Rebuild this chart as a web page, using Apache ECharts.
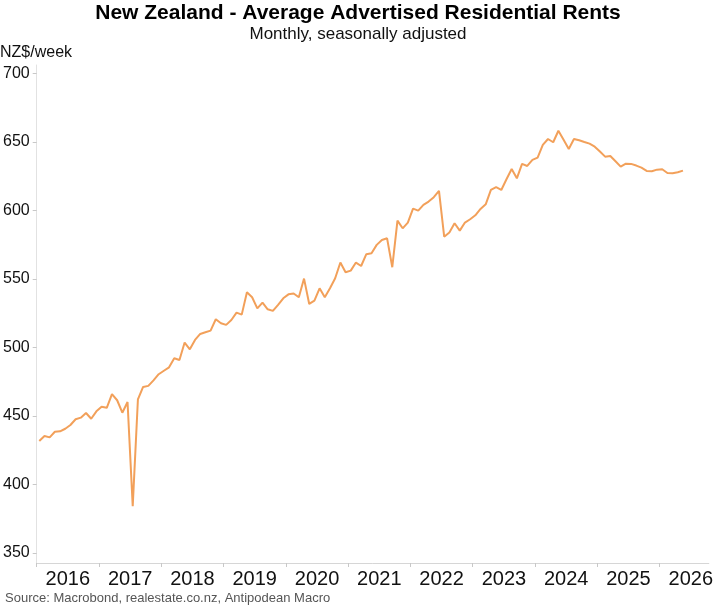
<!DOCTYPE html>
<html>
<head>
<meta charset="utf-8">
<script src="https://cdn.jsdelivr.net/npm/echarts@6/dist/echarts.min.js"></script>
<style>
  html, body { margin: 0; padding: 0; background: #fff; }
  #chart { width: 716px; height: 606px; }
</style>
</head>
<body>
<div id="chart"></div>
<script>
// monthly rents, Jan 2016 .. May 2026 (NZ$/week, s.a.)
const startYear = 2016;
const rents = [
  431.7, 435.4, 434.4, 438.5, 438.8, 440.7, 443.4, 447.6, 448.8, 452.2, 448.0, 453.4,
  456.8, 456.0, 465.9, 461.5, 452.4, 460.2, 384.1, 462.2, 471.2, 472.0, 476.0, 480.5,
  483.0, 485.5, 492.1, 490.9, 503.6, 498.7, 505.5, 509.9, 511.1, 512.3, 520.6, 517.7,
  516.5, 520.1, 525.5, 524.0, 540.3, 536.7, 528.6, 532.8, 527.9, 526.7, 531.1, 535.9,
  538.8, 539.4, 536.7, 550.3, 531.8, 534.2, 543.2, 536.7, 543.2, 550.5, 562.0, 554.9,
  556.1, 562.0, 559.5, 568.1, 568.8, 574.9, 578.5, 579.7, 558.6, 592.6, 587.0, 591.2,
  601.4, 599.9, 604.1, 606.5, 609.7, 614.3, 580.9, 583.9, 590.7, 585.3, 591.2, 593.6,
  596.5, 601.1, 604.5, 615.0, 617.0, 615.0, 622.8, 630.3, 623.5, 634.0, 632.5, 636.9,
  638.6, 647.9, 652.2, 649.8, 658.2, 651.6, 644.9, 652.2, 651.3, 650.0, 648.8, 646.6,
  643.0, 639.3, 639.8, 635.9, 632.0, 634.2, 634.0, 632.8, 631.3, 628.9, 628.6, 629.8,
  630.1, 627.4, 627.2, 627.9, 629.1
];
const yearTicks = [2016, 2017, 2018, 2019, 2020, 2021, 2022, 2023, 2024, 2025, 2026];
const yTicks = [350, 400, 450, 500, 550, 600, 650, 700];

// plot each month at its mid point
const data = rents.map((v, i) => [startYear + (i + 0.5) / 12, v]);

const font = "Liberation Sans, Arial, sans-serif";
const chart = echarts.init(document.getElementById("chart"), null, { renderer: "canvas" });

chart.setOption({
  animation: false,
  textStyle: { fontFamily: font },
  title: [
    {
      text: "New Zealand - Average Advertised Residential Rents",
      left: "center",
      top: 3,
      padding: 0,
      textStyle: { fontSize: 21, fontWeight: "bold", color: "#000", fontFamily: font }
    },
    {
      text: "Monthly, seasonally adjusted",
      left: "center",
      top: 26,
      padding: 0,
      textStyle: { fontSize: 17, fontWeight: "normal", color: "#111", fontFamily: font }
    },
    {
      text: "NZ$/week",
      left: 0,
      top: 45,
      padding: 0,
      textStyle: { fontSize: 16, fontWeight: "normal", color: "#111", fontFamily: font }
    },
    {
      text: "Source: Macrobond, realestate.co.nz, Antipodean Macro",
      left: 5,
      top: 592,
      padding: 0,
      textStyle: { fontSize: 13, fontWeight: "normal", color: "#555", fontFamily: font }
    }
  ],
  grid: { left: 36.5, right: 2, top: 65, bottom: 43, containLabel: false },
  xAxis: {
    type: "value",
    min: 2016,
    max: 2026.79,
    splitLine: { show: false },
    axisLine: { show: true, lineStyle: { color: "#d6d6d6", width: 1 } },
    axisTick: {
      show: true,
      customValues: yearTicks,
      length: 4,
      lineStyle: { color: "#c8c8c8" }
    },
    axisLabel: {
      customValues: yearTicks.map(y => y + 0.5),
      formatter: v => String(Math.floor(v)),
      color: "#111",
      fontSize: 20,
      margin: 6,
      fontFamily: font
    }
  },
  yAxis: {
    type: "value",
    min: 342.7,
    max: 706.2,
    splitLine: { show: false },
    axisLine: { show: true, lineStyle: { color: "#e2e2e2", width: 1 } },
    axisTick: {
      show: true,
      customValues: yTicks,
      length: 4,
      lineStyle: { color: "#c8c8c8" }
    },
    axisLabel: {
      customValues: yTicks,
      color: "#111",
      fontSize: 16,
      margin: 7,
      fontFamily: font
    }
  },
  series: [
    {
      type: "line",
      data: data,
      showSymbol: false,
      lineStyle: { color: "#F2A05A", width: 2 },
      itemStyle: { color: "#F2A05A" }
    }
  ]
});
</script>
</body>
</html>
